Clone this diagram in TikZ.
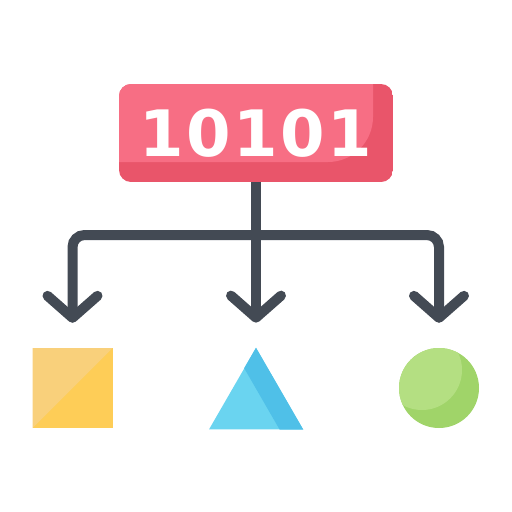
\documentclass[tikz,border=0pt]{standalone}
\usepackage{fontspec}
\newfontfamily\digitfont[LetterSpace=4]{DejaVu Sans}
\usetikzlibrary{arrows.meta,shapes.geometric,calc}
\definecolor{codelight}{HTML}{F76E84}
\definecolor{codedark}{HTML}{E9556A}
\definecolor{wiregray}{HTML}{434A54}
\definecolor{sqlight}{HTML}{F9D07B}
\definecolor{sqdark}{HTML}{FECD57}
\definecolor{trilight}{HTML}{6AD4F0}
\definecolor{tridark}{HTML}{4FC0E8}
\definecolor{balllight}{HTML}{B4DF82}
\definecolor{balldark}{HTML}{A0D469}
\begin{document}
\begin{tikzpicture}[x=1pt,y=-1pt,
  codetext/.style={text=white,inner sep=0pt,minimum width=274pt,minimum height=98pt,
    font=\digitfont\bfseries\fontsize{64}{64}\selectfont},
  branch/.style={draw=wiregray,line width=10pt,rounded corners=12pt,shorten >=25pt,
    -{Straight Barb[length=22pt,width=50pt,round]}},
  sqshape/.style={inner sep=0pt,minimum size=80pt,fill=sqdark,
    path picture={\fill[sqlight] (path picture bounding box.north west)
      -- (path picture bounding box.north east)
      -- (path picture bounding box.south west) -- cycle;}},
  trishape/.style={regular polygon,regular polygon sides=3,inner sep=0pt,
    minimum size=108.5pt,fill=trilight},
  ballshape/.style={circle,inner sep=0pt,minimum size=80pt,fill=balldark,
    path picture={\fill[balllight] ([shift={(-17,-18)}]path picture bounding box.center)
      circle[radius=40pt];}}]
\useasboundingbox (0,0) rectangle (512,512);
% ---------- code box ----------
\begin{scope}
\clip[rounded corners=12pt] (119,84) rectangle (393,182);
\fill[codedark] (119,84) rectangle (393,182);
\fill[codelight] (119,84) -- (373,84) -- (373,117)
  arc[start angle=0,end angle=90,radius=45] -- (119,162) -- cycle;
\end{scope}
\node[codetext] (code) at (256,133) {10101};
% ---------- shapes ----------
\node[sqshape] (square) at (72.5,388) {};
\node[trishape] (tri) at (256,402.3) {};
\fill[tridark] (tri.corner 1) -- ($(tri.corner 1)!0.25!(tri.corner 2)$)
  -- ($(tri.corner 2)!0.75!(tri.corner 3)$) -- (tri.corner 3) -- cycle;
\node[ballshape] (ball) at (439,388) {};
% ---------- arrows ----------
\coordinate (fork) at (256,235);
\draw[branch] (code.south) -- (tri.north);
\draw[branch] (fork) -| (square.north);
\draw[branch] (fork) -| (ball.north);
\end{tikzpicture}
\end{document}
